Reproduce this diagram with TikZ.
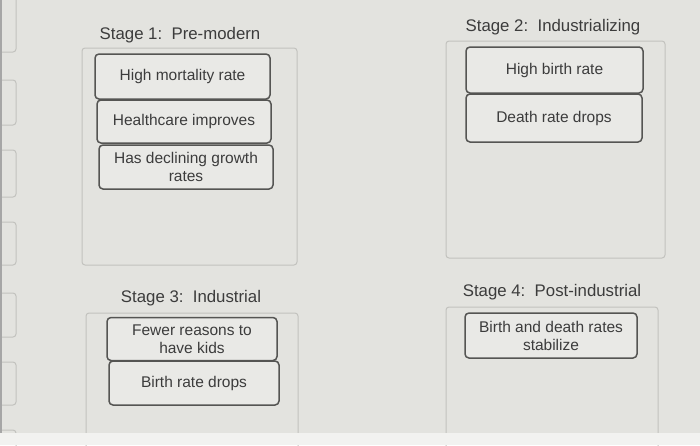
\documentclass[tikz,border=0pt]{standalone}
\usepackage{fontspec}
\setmainfont{Liberation Sans}
\definecolor{bg}{HTML}{E3E3DF}
\definecolor{itemfill}{HTML}{E9E9E6}
\definecolor{itemdraw}{HTML}{555553}
\definecolor{boxdraw}{HTML}{C2C2BE}
\definecolor{txt}{HTML}{3C3C3C}
\definecolor{strip}{HTML}{F2F2F0}
\tikzset{
  itembox/.style={draw=itemdraw, line width=1.5pt, fill=itemfill, rounded corners=4pt,
    align=center, inner sep=0pt, text=txt, font=\fontsize{15.5}{18}\selectfont},
  container/.style={draw=boxdraw, line width=1pt, rounded corners=3pt, inner sep=0pt},
  stagetitle/.style={text=txt, font=\fontsize{16.8}{20}\selectfont, inner sep=0pt},
  stub/.style={draw=boxdraw, line width=1pt, rounded corners=3pt, inner sep=0pt, minimum width=30pt}
}
\begin{document}
\begin{tikzpicture}[x=1pt,y=-1pt]
\useasboundingbox (0,0) rectangle (700,445);
\clip (0,0) rectangle (700,445);
\fill[bg] (0,0) rectangle (700,445);
% left stubs
\node[stub, minimum height=62pt] (l1) at (1,21) {};
\node[stub, minimum height=45pt] (l2) at (1,102.5) {};
\node[stub, minimum height=47pt] (l3) at (1,173.5) {};
\node[stub, minimum height=43pt] (l4) at (1,243.5) {};
\node[stub, minimum height=44pt] (l5) at (1,315) {};
\node[stub, minimum height=43pt] (l6) at (1,383.5) {};
\node[stub, minimum height=30pt] (l7) at (1,445) {};
\fill[gray!70] (0,0) rectangle (1.5,445);
% containers
\node[container, minimum width=215pt, minimum height=217pt] (c1) at (189.5,156.5) {};
\node[container, minimum width=219pt, minimum height=217pt] (c2) at (555.5,149.5) {};
\node[container, minimum width=212pt, minimum height=150pt] (c3) at (192,388) {};
\node[container, minimum width=212pt, minimum height=150pt] (c4) at (552,382) {};
% titles
\node[stagetitle] (t1) at (180,35) {Stage 1:\ \ Pre-modern};
\node[stagetitle] (t2) at (553,27) {Stage 2:\ \ Industrializing};
\node[stagetitle] (t3) at (191,298) {Stage 3:\ \ Industrial};
\node[stagetitle] (t4) at (552,292) {Stage 4:\ \ Post-industrial};
% items
\node[itembox, minimum width=175pt, minimum height=45pt] (s1a) at (182.5,76.5) {High mortality rate};
\node[itembox, minimum width=174pt, minimum height=43pt] (s1b) at (184,121.5) {Healthcare improves};
\node[itembox, minimum width=174pt, minimum height=44pt] (s1c) at (186,167) {Has declining growth\\rates};
\node[itembox, minimum width=177pt, minimum height=46pt] (s2a) at (554.5,70) {High birth rate};
\node[itembox, minimum width=176pt, minimum height=48pt] (s2b) at (554,118) {Death rate drops};
\node[itembox, minimum width=170pt, minimum height=43pt] (s3a) at (192,339) {Fewer reasons to\\have kids};
\node[itembox, minimum width=170pt, minimum height=44pt] (s3b) at (194,383) {Birth rate drops};
\node[itembox, minimum width=172pt, minimum height=45pt] (s4a) at (551,335.5) {Birth and death rates\\stabilize};
% bottom strip
\fill[strip] (0,433) rectangle (700,445);
\end{tikzpicture}
\end{document}
